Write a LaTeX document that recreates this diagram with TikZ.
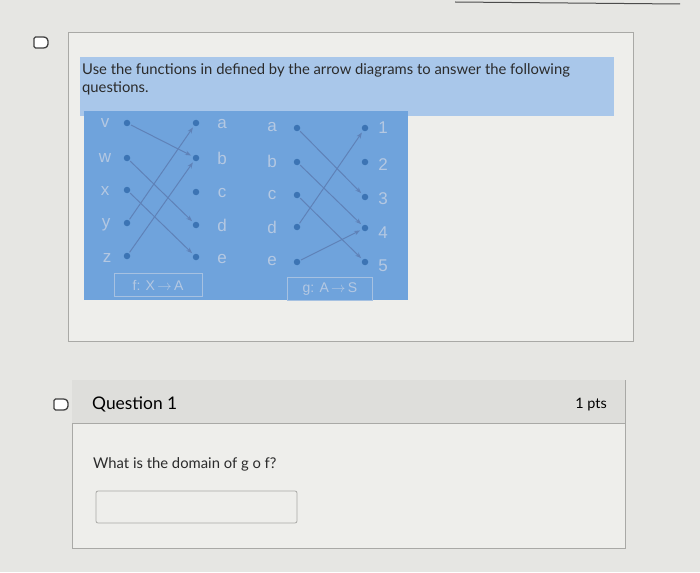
\documentclass[tikz,border=0pt]{standalone}
\usepackage{fontspec}
\setmainfont{Lato}
\newfontfamily\arialf{Liberation Sans}
\usetikzlibrary{arrows.meta}
\definecolor{photobg}{HTML}{E6E6E3}
\definecolor{cardbg}{HTML}{EEEEEB}
\definecolor{cardline}{HTML}{A9A9A6}
\definecolor{bandblue}{HTML}{A9C7EA}
\definecolor{diagblue}{HTML}{6FA3DC}
\definecolor{dotblue}{HTML}{3C74B4}
\definecolor{arrowblue}{HTML}{5F82B8}
\definecolor{lblgray}{HTML}{B4C8E2}
\definecolor{qhead}{HTML}{DEDEDB}
\definecolor{txt}{HTML}{2B2B2B}
\tikzset{
  dot/.style={circle,fill=dotblue,inner sep=0pt,minimum size=6.5pt},
  lbl/.style={font=\arialf\fontsize{17}{17}\selectfont,text=lblgray,inner sep=0pt},
  arr/.style={draw=arrowblue,line width=1pt,-{Stealth[length=6pt,width=4.5pt]},shorten >=2pt,shorten <=1pt},
  card/.style={draw=cardline,line width=0.8pt,fill=cardbg},
  bmark/.style={draw=black!75,line width=1.3pt,fill=white,rounded corners=1.5pt},
  fbox/.style={draw=lblgray!80!diagblue,line width=0.6pt,inner sep=0pt}
}
\begin{document}
\begin{tikzpicture}[x=1pt,y=-1pt]
\useasboundingbox (0,0) rectangle (700,572);
\fill[photobg] (0,0) rectangle (700,572);
\draw[black!70,line width=1pt] (455,2) -- (680,4);
% card 1
\draw[card] (68,32) rectangle (633,341);
\fill[bandblue] (80,57) rectangle (614,116);
\node[anchor=base west,inner sep=0pt,text=txt,font=\fontsize{14.8}{17}\selectfont] (t1) at (82,75) {Use the functions in defined by the arrow diagrams to answer the following};
\node[anchor=base west,inner sep=0pt,text=txt,font=\fontsize{14.8}{17}\selectfont] (t2) at (82,93) {questions.};
% bookmark icons
\draw[bmark] (34,37) -- (42,37) .. controls (47,37) and (48,40) .. (48,42.5) .. controls (48,45) and (47,48) .. (42,48) -- (34,48) -- cycle;
\draw[bmark] (54,399) -- (62,399) .. controls (67,399) and (68,402) .. (68,404.5) .. controls (68,407) and (67,410) .. (62,410) -- (54,410) -- cycle;
% diagram
\fill[diagblue] (84,111) rectangle (408,300);
% X
\node[lbl] (lv) at (105,123) {v};
\node[lbl] (lw) at (105,158) {w};
\node[lbl] (lx) at (105,191) {x};
\node[lbl] (ly) at (106,225) {y};
\node[lbl] (lz) at (107,258) {z};
\node[dot] (v) at (127,123) {};
\node[dot] (w) at (127,158) {};
\node[dot] (x) at (127,190) {};
\node[dot] (y) at (127,223) {};
\node[dot] (z) at (127,256) {};
% A
\node[dot] (a) at (196,123) {};
\node[dot] (b) at (196,158) {};
\node[dot] (c) at (196,192) {};
\node[dot] (d) at (196,225) {};
\node[dot] (e) at (196,257) {};
\node[lbl] (la) at (222,124) {a};
\node[lbl] (lb) at (222,158) {b};
\node[lbl] (lc) at (222,193) {c};
\node[lbl] (ld) at (222,225) {d};
\node[lbl] (le) at (222,259) {e};
\node[fbox,minimum width=88pt,minimum height=23pt] (fb) at (158,285) {};
\node[lbl,font=\arialf\fontsize{14}{14}\selectfont] (fl) at (158,285) {f: X\,$\rightarrow$\,A};
% A second copy
\node[lbl] (la2) at (272,127) {a};
\node[lbl] (lb2) at (272,161) {b};
\node[lbl] (lc2) at (272,195) {c};
\node[lbl] (ld2) at (272,227) {d};
\node[lbl] (le2) at (272,261) {e};
\node[dot] (a2) at (297,128) {};
\node[dot] (b2) at (297,162) {};
\node[dot] (c2) at (297,195) {};
\node[dot] (d2) at (297,227) {};
\node[dot] (e2) at (297,262) {};
% S
\node[dot] (s1) at (365,128) {};
\node[dot] (s2) at (365,162) {};
\node[dot] (s3) at (365,197) {};
\node[dot] (s4) at (365,228) {};
\node[dot] (s5) at (365,262) {};
\node[lbl] (l1) at (383,128) {1};
\node[lbl] (l2) at (383,165) {2};
\node[lbl] (l3) at (383,199) {3};
\node[lbl] (l4) at (383,233) {4};
\node[lbl] (l5) at (383,266) {5};
\node[fbox,minimum width=85pt,minimum height=23pt] (gb) at (330,289) {};
\node[lbl,font=\arialf\fontsize{14}{14}\selectfont] (gl) at (330,289) {g: A\,$\rightarrow$\,S};
% f arrows
\draw[arr] (v) -- (b);
\draw[arr] (w) -- (d);
\draw[arr] (x) -- (e);
\draw[arr] (y) -- (a);
\draw[arr] (z) -- (b);
% g arrows
\draw[arr] (a2) -- (s3);
\draw[arr] (b2) -- (s4);
\draw[arr] (c2) -- (s5);
\draw[arr] (d2) -- (s1);
\draw[arr] (e2) -- (s4);
% card 2
\draw[card] (72,380) rectangle (625,548);
\fill[qhead] (72.4,380.4) rectangle (624.6,423);
\draw[cardline,line width=0.8pt] (72,423) -- (625,423);
\node[anchor=base west,inner sep=0pt,text=black,font=\fontsize{17.4}{20}\selectfont] (q1) at (92,409) {Question 1};
\node[anchor=base east,inner sep=0pt,text=black,font=\fontsize{14.4}{17}\selectfont] (pts) at (607,408) {1 pts};
\node[anchor=base west,inner sep=0pt,text=txt,font=\fontsize{14.8}{17}\selectfont] (qt) at (93,468) {What is the domain of g o f?};
\draw[cardline,line width=0.8pt,fill=cardbg,rounded corners=2pt] (96,491) rectangle (297,523);
\end{tikzpicture}
\end{document}
